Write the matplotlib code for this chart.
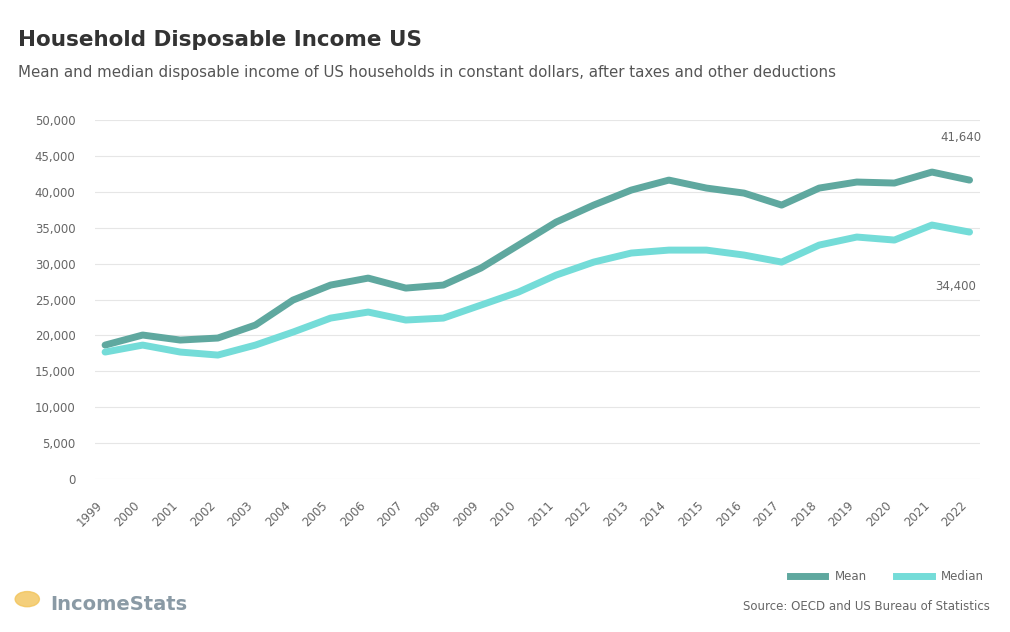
import matplotlib.pyplot as plt
from matplotlib.lines import Line2D
from matplotlib.patches import Circle

# data
years = [str(y) for y in range(1999, 2023)]
mean_income = [18660, 20060, 19360, 19640, 21450, 24930, 27020, 27990,
               26600, 27020, 29390, 32590, 35790, 38160, 40250, 41640,
               40530, 39830, 38160, 40530, 41370, 41230, 42760, 41640]
median_income = [17690, 18660, 17690, 17270, 18660, 20470, 22420, 23260,
                 22150, 22420, 24230, 26050, 28410, 30220, 31480, 31890,
                 31890, 31200, 30220, 32590, 33710, 33290, 35380, 34400]
yticks = list(range(0, 50001, 5000))

c_mean = '#5fa89f'
c_median = '#74dcd8'
grey = '#666666'

fig = plt.figure(figsize=(10.1, 6.32), dpi=100)
ax = fig.add_axes([0.094, 0.242, 0.876, 0.568])

x = range(len(years))
ax.plot(x, mean_income, color=c_mean, lw=5, solid_capstyle='round')
ax.plot(x, median_income, color=c_median, lw=5, solid_capstyle='round')

ax.set_ylim(0, 50000)
ax.set_xlim(-0.27, len(years) - 1 + 0.27)
ax.set_yticks(yticks)
ax.set_yticklabels([f'{v:,}' for v in yticks])
ax.set_xticks(list(x))
ax.set_xticklabels(years, rotation=45, ha='right')
ax.tick_params(axis='both', length=0, labelsize=8.5, colors=grey, pad=14)
ax.grid(axis='y', color='#e6e6e6', lw=0.8)
ax.set_axisbelow(True)
for s in ax.spines.values():
    s.set_visible(False)

# end labels
ax.annotate(f'{mean_income[-1]:,}', (len(years) - 1, mean_income[-1]),
            xytext=(-6, 28), textcoords='offset points', ha='center',
            fontsize=8.5, color=grey)
ax.annotate(f'{median_income[-1]:,}', (len(years) - 1, median_income[-1]),
            xytext=(-10, -42), textcoords='offset points', ha='center',
            fontsize=8.5, color=grey)

fig.text(0.018, 0.927, 'Household Disposable Income US', fontsize=15.5,
         fontweight='bold', color='#333333')
fig.text(0.018, 0.878, 'Mean and median disposable income of US households in constant dollars, after taxes and other deductions',
         fontsize=10.8, color='#555555')

handles = [Line2D([], [], color=c_mean, lw=5), Line2D([], [], color=c_median, lw=5)]
fig.legend(handles, ['Mean', 'Median'], loc='center right', bbox_to_anchor=(0.985, 0.088),
           ncol=2, frameon=False, fontsize=8.5, labelcolor=grey, handlelength=3,
           columnspacing=2.5)
fig.text(0.98, 0.035, 'Source: OECD and US Bureau of Statistics', ha='right',
         fontsize=8.5, color=grey)

fig.patches.append(Circle((0.027, 0.052), 0.012, transform=fig.transFigure,
                          color='#f2c45a', alpha=0.8))
fig.text(0.05, 0.035, 'IncomeStats', fontsize=14, fontweight='bold', color='#8a9aa5')

fig.savefig('out.png', dpi=100)
